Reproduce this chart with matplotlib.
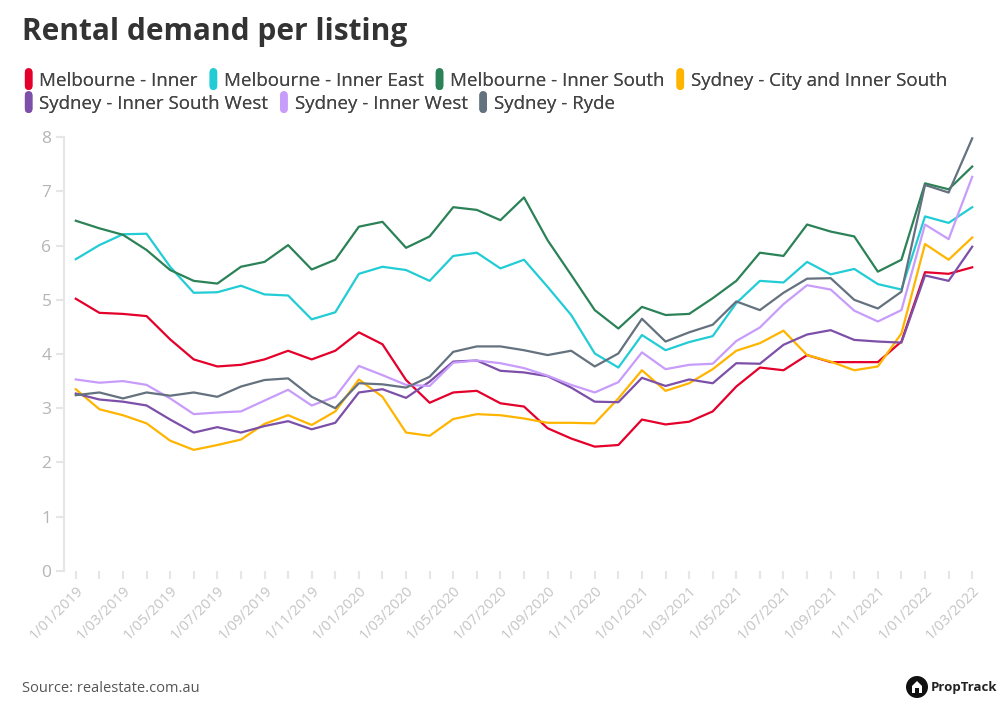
import numpy as np
import matplotlib
matplotlib.use("Agg")
import matplotlib.pyplot as plt
from matplotlib.patches import FancyBboxPatch, Patch, Ellipse, Polygon
from matplotlib.legend_handler import HandlerPatch

# monthly, 1/01/2019 .. 1/03/2022
months = [f"1/{m:02d}/{y}" for y in (2019, 2020, 2021, 2022) for m in range(1, 13)][:39]

mel_inner = [5.02, 4.76, 4.74, 4.70, 4.27, 3.90, 3.77, 3.80, 3.90, 4.06, 3.90, 4.06, 4.40,
             4.18, 3.52, 3.10, 3.29, 3.32, 3.09, 3.03, 2.63, 2.44, 2.29, 2.32, 2.79, 2.70,
             2.75, 2.94, 3.40, 3.75, 3.70, 3.98, 3.85, 3.85, 3.85, 4.23, 5.51, 5.48, 5.60]
mel_inner_east = [5.75, 6.01, 6.21, 6.22, 5.61, 5.13, 5.14, 5.26, 5.10, 5.08, 4.64, 4.77, 5.48,
                  5.61, 5.55, 5.35, 5.81, 5.87, 5.58, 5.74, 5.24, 4.72, 4.01, 3.75, 4.35, 4.07,
                  4.22, 4.33, 4.94, 5.35, 5.32, 5.70, 5.47, 5.57, 5.29, 5.19, 6.54, 6.42, 6.71]
mel_inner_south = [6.46, 6.32, 6.20, 5.92, 5.55, 5.35, 5.30, 5.61, 5.70, 6.01, 5.56, 5.74, 6.35,
                   6.44, 5.96, 6.17, 6.71, 6.66, 6.47, 6.89, 6.10, 5.46, 4.81, 4.47, 4.87, 4.72,
                   4.74, 5.03, 5.35, 5.87, 5.81, 6.39, 6.26, 6.17, 5.52, 5.74, 7.15, 7.04, 7.46]
syd_city = [3.35, 2.98, 2.87, 2.72, 2.40, 2.23, 2.32, 2.42, 2.71, 2.87, 2.69, 2.94, 3.53,
            3.21, 2.55, 2.49, 2.80, 2.89, 2.87, 2.81, 2.73, 2.73, 2.72, 3.18, 3.70, 3.32,
            3.46, 3.72, 4.06, 4.20, 4.43, 3.98, 3.86, 3.70, 3.77, 4.38, 6.03, 5.74, 6.15]
syd_isw = [3.27, 3.16, 3.12, 3.05, 2.79, 2.55, 2.65, 2.55, 2.67, 2.76, 2.61, 2.73, 3.29,
           3.35, 3.19, 3.49, 3.86, 3.88, 3.69, 3.66, 3.59, 3.38, 3.12, 3.11, 3.56, 3.41,
           3.53, 3.46, 3.83, 3.82, 4.17, 4.36, 4.44, 4.26, 4.23, 4.21, 5.45, 5.35, 5.98]
syd_iw = [3.53, 3.47, 3.50, 3.43, 3.18, 2.89, 2.92, 2.94, 3.14, 3.34, 3.05, 3.21, 3.78,
          3.61, 3.43, 3.41, 3.84, 3.88, 3.83, 3.74, 3.60, 3.43, 3.29, 3.48, 4.03, 3.72,
          3.80, 3.82, 4.24, 4.49, 4.92, 5.27, 5.19, 4.80, 4.60, 4.81, 6.39, 6.12, 7.27]
syd_ryde = [3.24, 3.29, 3.18, 3.29, 3.23, 3.29, 3.21, 3.40, 3.52, 3.55, 3.21, 3.00, 3.46,
            3.44, 3.38, 3.58, 4.04, 4.14, 4.14, 4.07, 3.98, 4.06, 3.77, 4.01, 4.65, 4.23,
            4.40, 4.54, 4.97, 4.81, 5.13, 5.39, 5.40, 5.00, 4.84, 5.15, 7.12, 6.98, 7.98]

series = [
    ("Melbourne - Inner", mel_inner, "#e4002b"),
    ("Melbourne - Inner East", mel_inner_east, "#22ccd5"),
    ("Melbourne - Inner South", mel_inner_south, "#2b8257"),
    ("Sydney - City and Inner South", syd_city, "#ffb500"),
    ("Sydney - Inner South West", syd_isw, "#7c4fa8"),
    ("Sydney - Inner West", syd_iw, "#c89cfa"),
    ("Sydney - Ryde", syd_ryde, "#64717e"),
]

plt.rcParams["font.family"] = ["Open Sans", "DejaVu Sans"]

fig = plt.figure(figsize=(10.08, 7.19), dpi=100)
ax = fig.add_axes([64 / 1008, 1 - 570.7 / 719, 920 / 1008, 433.4 / 719])

x = np.arange(len(months))
for label, vals, color in series:
    ax.plot(x, vals, color=color, lw=1.6, label=label, solid_joinstyle="round")

ax.set_xlim(-0.5, 38.5)
ax.set_ylim(0, 8)
ax.set_yticks(range(0, 9))
ax.set_xticks(x)
ax.set_xticklabels([m if i % 2 == 0 else "" for i, m in enumerate(months)],
                   rotation=45, ha="right", rotation_mode="anchor")

for s in ("top", "right", "bottom"):
    ax.spines[s].set_visible(False)
ax.spines["left"].set_color("#e6e6e6")
ax.spines["left"].set_linewidth(1.5)
ax.tick_params(axis="y", length=6, width=1.5, color="#e6e6e6", labelcolor="#b5b5b5",
               labelsize=12.5, pad=3)
ax.tick_params(axis="x", length=6, width=1.5, color="#e6e6e6", labelcolor="#c4c4c4",
               labelsize=10.5, pad=3, direction="out")


class RoundHandler(HandlerPatch):
    def create_artists(self, legend, orig_handle, xdescent, ydescent, width, height, fontsize, trans):
        p = FancyBboxPatch((-xdescent + 1, -ydescent - 2), width - 2, height + 4,
                           boxstyle="round,pad=0,rounding_size=3",
                           facecolor=orig_handle.get_facecolor(), edgecolor="none",
                           transform=trans)
        return [p]


def row_legend(items, y):
    handles = [Patch(facecolor=c) for _, _, c in items]
    labels = [l for l, _, _ in items]
    leg = fig.legend(handles, labels, loc="upper left", bbox_to_anchor=(16 / 1008, y),
                     ncol=len(items), frameon=False, fontsize=13.5, handlelength=0.55,
                     handleheight=0.95, handletextpad=0.3, columnspacing=0.55,
                     handler_map={Patch: RoundHandler()}, borderaxespad=0)
    for t in leg.get_texts():
        t.set_color("#444444")
    return leg


fig.add_artist(row_legend(series[:4], 1 - 63.5 / 719))
fig.add_artist(row_legend(series[4:], 1 - 86.5 / 719))

fig.text(22 / 1008, 1 - 32 / 719, "Rental demand per listing", fontsize=21.5, fontweight="bold",
         color="#333333", va="center", ha="left")
fig.text(22 / 1008, 1 - 688 / 719, "Source: realestate.com.au", fontsize=10.5, color="#555555",
         va="center", ha="left")

# PropTrack logo
cx, cy = 917, 687
fig.add_artist(Ellipse((cx / 1008, 1 - cy / 719), 22 / 1008, 22 / 719, transform=fig.transFigure,
                       facecolor="#111111", edgecolor="none"))
house = [(cx - 5, cy + 6), (cx - 5, cy - 1), (cx, cy - 6), (cx + 5, cy - 1), (cx + 5, cy + 6),
         (cx + 2, cy + 6), (cx + 2, cy + 1), (cx - 2, cy + 1), (cx - 2, cy + 6)]
fig.add_artist(Polygon([(px / 1008, 1 - py / 719) for px, py in house], closed=True,
                       transform=fig.transFigure, facecolor="white", edgecolor="none"))
fig.text(931 / 1008, 1 - 687 / 719, "PropTrack", fontsize=9.5, fontweight="bold", color="#222222",
         ha="left", va="center")

fig.savefig("out.png", dpi=100)
